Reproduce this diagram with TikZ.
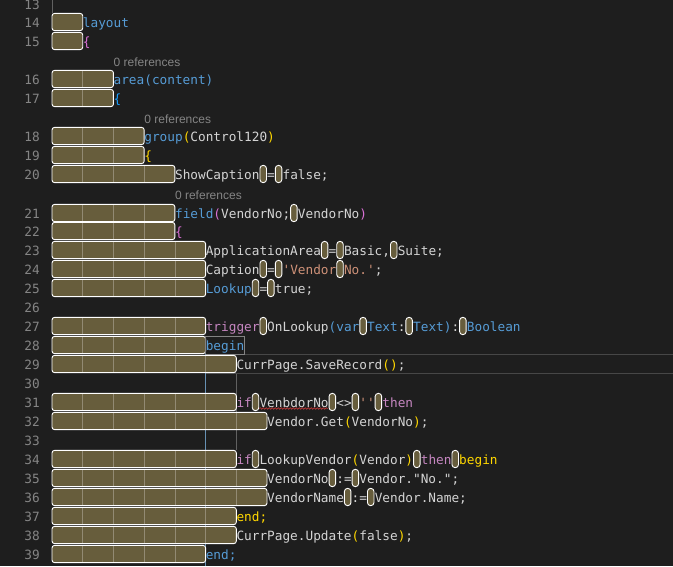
\documentclass[tikz,border=0pt]{standalone}
\usepackage{fontspec}
\usetikzlibrary{decorations.pathmorphing}
\newfontfamily\codefont{DejaVu Sans Mono}
\newfontfamily\uifont{Liberation Sans}
\definecolor{bg}{HTML}{1E1E1E}
\definecolor{fg}{HTML}{D4D4D4}
\definecolor{lnum}{HTML}{858585}
\definecolor{kw}{HTML}{569CD6}
\definecolor{ctl}{HTML}{C586C0}
\definecolor{str}{HTML}{CE9178}
\definecolor{gold}{HTML}{FFD700}
\definecolor{pink}{HTML}{DA70D6}
\definecolor{bblue}{HTML}{179FFF}
\definecolor{wsfill}{RGB}{103,93,60}
\tikzset{
  wsbox/.style={draw=white, fill=wsfill, line width=0.9pt, rounded corners=2.5pt},
  guide/.style={draw=white!28!wsfill, line width=0.6pt},
  codetxt/.style={anchor=base west, inner sep=0pt, font=\codefont\fontsize{12.75}{15}\selectfont},
  reftxt/.style={anchor=base west, inner sep=0pt, text=lnum, font=\uifont\fontsize{12}{14}\selectfont},
  numtxt/.style={anchor=base east, inner sep=0pt, text=lnum, font=\codefont\fontsize{12.75}{15}\selectfont},
}
\newcommand\ind[2]{%
  \draw[wsbox] (52,#1-8.6) rectangle ({52+30.72*#2},#1+8.6);
  \ifnum#2>1 \foreach \k in {2,...,#2}{\draw[guide] ({52+30.72*(\k-1)},#1-8) -- ({52+30.72*(\k-1)},#1+8);}\fi}
\newcommand\spc[2]{\draw[wsbox,rounded corners=3pt] ({52+7.68*#2+0.6},#1-8.6) rectangle ({52+7.68*#2+7.1},#1+8.6);}
\newcommand\tx[4]{\node[codetxt,text=#3] at ({52+7.68*#2},#1+5.2) {#4};}
\newcommand\lineno[2]{\node[numtxt] at (40,#1+5.2) {#2};}
\newcommand\refs[2]{\node[reftxt] at ({52+7.68*#2},#1+4.6) {0 references};}
\begin{document}
\begin{tikzpicture}[x=1pt,y=-1pt]
\fill[bg] (0,0) rectangle (673,566);
\useasboundingbox (0,0) rectangle (673,566);
\draw[color=white!18!bg] ({52+7.68*20},354.5) -- (673,354.5) ({52+7.68*20},373.5) -- (673,373.5);
\draw[color=white!30!bg] (52,0) -- (52,13);
\draw[color=white!30!bg] ({52+7.68*24},374) -- ({52+7.68*24},450);
\lineno{4}{13}\lineno{22}{14}\lineno{41}{15}\lineno{79}{16}\lineno{98}{17}\lineno{136}{18}\lineno{155}{19}\lineno{174}{20}
\lineno{213}{21}\lineno{231}{22}\lineno{250}{23}\lineno{269}{24}\lineno{288}{25}\lineno{307}{26}\lineno{326}{27}\lineno{345}{28}
\lineno{364}{29}\lineno{383}{30}\lineno{402}{31}\lineno{421}{32}\lineno{440}{33}\lineno{459}{34}\lineno{478}{35}\lineno{497}{36}
\lineno{516}{37}\lineno{535}{38}\lineno{554}{39}
\ind{22}{1}\tx{22}{4}{kw}{layout}
\ind{41}{1}\tx{41}{4}{pink}{\{}
\refs{62}{8}
\ind{79}{2}\tx{79}{8}{kw}{area(content)}
\ind{98}{2}\tx{98}{8}{bblue}{\{}
\refs{119}{12}
\ind{136}{3}\tx{136}{12}{kw}{group}\tx{136}{17}{gold}{(}\tx{136}{18}{fg}{Control120}\tx{136}{28}{gold}{)}
\ind{155}{3}\tx{155}{12}{gold}{\{}
\ind{174}{4}\tx{174}{16}{fg}{ShowCaption}\spc{174}{27}\tx{174}{28}{fg}{=}\spc{174}{29}\tx{174}{30}{fg}{false;}
\refs{195}{16}
\ind{213}{4}\tx{213}{16}{kw}{field}\tx{213}{21}{pink}{(}\tx{213}{22}{fg}{VendorNo;}\spc{213}{31}\tx{213}{32}{fg}{VendorNo}\tx{213}{40}{pink}{)}
\ind{231}{4}\tx{231}{16}{pink}{\{}
\ind{250}{5}\tx{250}{20}{fg}{ApplicationArea}\spc{250}{35}\tx{250}{36}{fg}{=}\spc{250}{37}\tx{250}{38}{fg}{Basic,}\spc{250}{44}\tx{250}{45}{fg}{Suite;}
\ind{269}{5}\tx{269}{20}{fg}{Caption}\spc{269}{27}\tx{269}{28}{fg}{=}\spc{269}{29}\tx{269}{30}{str}{'Vendor}\spc{269}{37}\tx{269}{38}{str}{No.'}\tx{269}{42}{fg}{;}
\ind{288}{5}\tx{288}{20}{kw}{Lookup}\spc{288}{26}\tx{288}{27}{fg}{=}\spc{288}{28}\tx{288}{29}{fg}{true;}
\ind{326}{5}\tx{326}{20}{ctl}{trigger}\spc{326}{27}\tx{326}{28}{fg}{OnLookup}\tx{326}{36}{kw}{(var}\spc{326}{40}\tx{326}{41}{kw}{Text}\tx{326}{45}{fg}{:}\spc{326}{46}\tx{326}{47}{kw}{Text}\tx{326}{51}{kw}{)}\tx{326}{52}{fg}{:}\spc{326}{53}\tx{326}{54}{kw}{Boolean}
\ind{345}{5}\tx{345}{20}{kw}{begin}
\draw[color=white!45!bg] ({52+7.68*20},336) rectangle ({52+7.68*25},354);
\draw[color=kw!60!gray, line width=0.8pt] ({52+7.68*20},354) -- ({52+7.68*20},566);
\ind{364}{6}\tx{364}{24}{fg}{CurrPage.SaveRecord}\tx{364}{43}{gold}{()}\tx{364}{45}{fg}{;}
\ind{402}{6}\tx{402}{24}{ctl}{if}\spc{402}{26}\tx{402}{27}{fg}{VenbdorNo}\spc{402}{36}\tx{402}{37}{fg}{<>}\spc{402}{39}\tx{402}{40}{str}{''}\spc{402}{42}\tx{402}{43}{ctl}{then}
\draw[red!75!white, decorate, decoration={snake, amplitude=0.9pt, segment length=3pt}] ({52+7.68*27},408.5) -- ({52+7.68*36},408.5);
\ind{421}{7}\tx{421}{28}{fg}{Vendor.Get}\tx{421}{38}{gold}{(}\tx{421}{39}{fg}{VendorNo}\tx{421}{47}{gold}{)}\tx{421}{48}{fg}{;}
\ind{459}{6}\tx{459}{24}{ctl}{if}\spc{459}{26}\tx{459}{27}{fg}{LookupVendor}\tx{459}{39}{gold}{(}\tx{459}{40}{fg}{Vendor}\tx{459}{46}{gold}{)}\spc{459}{47}\tx{459}{48}{ctl}{then}\spc{459}{52}\tx{459}{53}{gold}{begin}
\ind{478}{7}\tx{478}{28}{fg}{VendorNo}\spc{478}{36}\tx{478}{37}{fg}{:=}\spc{478}{39}\tx{478}{40}{fg}{Vendor."No.";}
\ind{497}{7}\tx{497}{28}{fg}{VendorName}\spc{497}{38}\tx{497}{39}{fg}{:=}\spc{497}{41}\tx{497}{42}{fg}{Vendor.Name;}
\ind{516}{6}\tx{516}{24}{gold}{end;}
\ind{535}{6}\tx{535}{24}{fg}{CurrPage.Update}\tx{535}{39}{gold}{(}\tx{535}{40}{fg}{false}\tx{535}{45}{gold}{)}\tx{535}{46}{fg}{;}
\ind{554}{5}\tx{554}{20}{kw}{end;}
\end{tikzpicture}
\end{document}
